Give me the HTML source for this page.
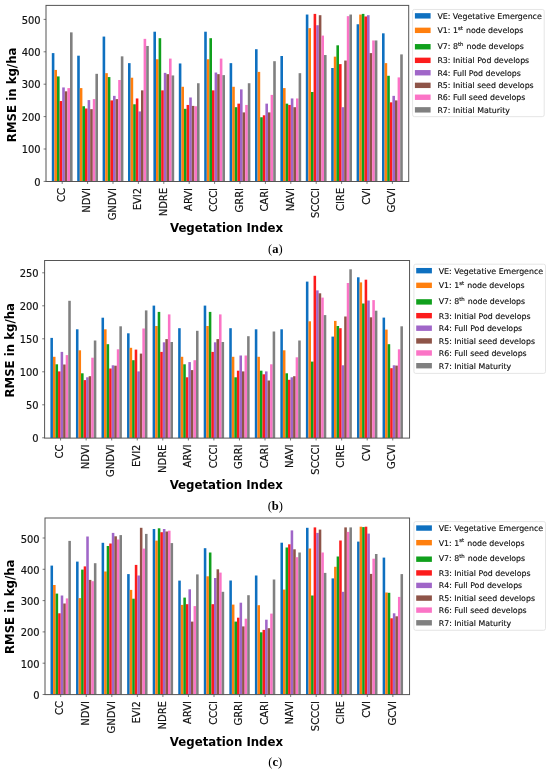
<!DOCTYPE html>
<html><head><meta charset="utf-8"><title>RMSE by Vegetation Index</title>
<style>
html,body{margin:0;padding:0;background:#fff;}
svg{display:block;}
.tk{font-family:"DejaVu Sans","Liberation Sans",sans-serif;font-size:9.95px;fill:#111;stroke:#111;stroke-width:0.18px;}
.lb{font-family:"DejaVu Sans","Liberation Sans",sans-serif;font-size:11.75px;font-weight:bold;fill:#000;}
.lg{font-family:"DejaVu Sans","Liberation Sans",sans-serif;font-size:7.85px;fill:#111;stroke:#111;stroke-width:0.15px;}
.cp{font-family:"Liberation Serif","DejaVu Serif",serif;font-size:12.5px;fill:#000;}
</style></head><body>
<svg width="550" height="773" viewBox="0 0 550 773" shape-rendering="auto">
<rect width="550" height="773" fill="#fff"/>
<rect x="51.8" y="53.1" width="2.6" height="128.4" fill="#0e70c0"/>
<rect x="54.4" y="69.94" width="2.6" height="111.56" fill="#ff7f0e"/>
<rect x="57" y="76.42" width="2.6" height="105.08" fill="#10a01c"/>
<rect x="59.6" y="101.05" width="2.6" height="80.45" fill="#fc1c1c"/>
<rect x="62.2" y="87.44" width="2.6" height="94.06" fill="#a066c8"/>
<rect x="64.8" y="91.33" width="2.6" height="90.17" fill="#8e5448"/>
<rect x="67.4" y="88.09" width="2.6" height="93.41" fill="#fb74c6"/>
<rect x="70" y="32.36" width="2.6" height="149.14" fill="#808080"/>
<rect x="77.2" y="55.69" width="2.6" height="125.81" fill="#0e70c0"/>
<rect x="79.8" y="88.09" width="2.6" height="93.41" fill="#ff7f0e"/>
<rect x="82.4" y="106.23" width="2.6" height="75.27" fill="#10a01c"/>
<rect x="85" y="108.5" width="2.6" height="73" fill="#fc1c1c"/>
<rect x="87.6" y="100.08" width="2.6" height="81.42" fill="#a066c8"/>
<rect x="90.2" y="109.15" width="2.6" height="72.35" fill="#8e5448"/>
<rect x="92.8" y="99.1" width="2.6" height="82.4" fill="#fb74c6"/>
<rect x="95.4" y="73.83" width="2.6" height="107.67" fill="#808080"/>
<rect x="102.6" y="36.57" width="2.6" height="144.93" fill="#0e70c0"/>
<rect x="105.2" y="73.18" width="2.6" height="108.32" fill="#ff7f0e"/>
<rect x="107.8" y="77.07" width="2.6" height="104.43" fill="#10a01c"/>
<rect x="110.4" y="100.4" width="2.6" height="81.1" fill="#fc1c1c"/>
<rect x="113" y="95.86" width="2.6" height="85.64" fill="#a066c8"/>
<rect x="115.6" y="99.1" width="2.6" height="82.4" fill="#8e5448"/>
<rect x="118.2" y="79.99" width="2.6" height="101.51" fill="#fb74c6"/>
<rect x="120.8" y="56.34" width="2.6" height="125.16" fill="#808080"/>
<rect x="128" y="63.14" width="2.6" height="118.36" fill="#0e70c0"/>
<rect x="130.6" y="77.72" width="2.6" height="103.78" fill="#ff7f0e"/>
<rect x="133.2" y="104.29" width="2.6" height="77.21" fill="#10a01c"/>
<rect x="135.8" y="98.46" width="2.6" height="83.04" fill="#fc1c1c"/>
<rect x="138.4" y="111.42" width="2.6" height="70.08" fill="#a066c8"/>
<rect x="141" y="90.36" width="2.6" height="91.14" fill="#8e5448"/>
<rect x="143.6" y="38.84" width="2.6" height="142.66" fill="#fb74c6"/>
<rect x="146.2" y="45.97" width="2.6" height="135.53" fill="#808080"/>
<rect x="153.4" y="31.71" width="2.6" height="149.79" fill="#0e70c0"/>
<rect x="156" y="59.25" width="2.6" height="122.25" fill="#ff7f0e"/>
<rect x="158.6" y="38.19" width="2.6" height="143.31" fill="#10a01c"/>
<rect x="161.2" y="90.36" width="2.6" height="91.14" fill="#fc1c1c"/>
<rect x="163.8" y="72.86" width="2.6" height="108.64" fill="#a066c8"/>
<rect x="166.4" y="74.16" width="2.6" height="107.34" fill="#8e5448"/>
<rect x="169" y="58.6" width="2.6" height="122.9" fill="#fb74c6"/>
<rect x="171.6" y="75.45" width="2.6" height="106.05" fill="#808080"/>
<rect x="178.8" y="63.46" width="2.6" height="118.04" fill="#0e70c0"/>
<rect x="181.4" y="86.79" width="2.6" height="94.71" fill="#ff7f0e"/>
<rect x="184" y="108.82" width="2.6" height="72.68" fill="#10a01c"/>
<rect x="186.6" y="104.94" width="2.6" height="76.56" fill="#fc1c1c"/>
<rect x="189.2" y="97.48" width="2.6" height="84.02" fill="#a066c8"/>
<rect x="191.8" y="105.91" width="2.6" height="75.59" fill="#8e5448"/>
<rect x="194.4" y="106.23" width="2.6" height="75.27" fill="#fb74c6"/>
<rect x="197" y="83.23" width="2.6" height="98.27" fill="#808080"/>
<rect x="204.2" y="31.71" width="2.6" height="149.79" fill="#0e70c0"/>
<rect x="206.8" y="59.25" width="2.6" height="122.25" fill="#ff7f0e"/>
<rect x="209.4" y="38.19" width="2.6" height="143.31" fill="#10a01c"/>
<rect x="212" y="90.36" width="2.6" height="91.14" fill="#fc1c1c"/>
<rect x="214.6" y="72.54" width="2.6" height="108.96" fill="#a066c8"/>
<rect x="217.2" y="74.16" width="2.6" height="107.34" fill="#8e5448"/>
<rect x="219.8" y="58.6" width="2.6" height="122.9" fill="#fb74c6"/>
<rect x="222.4" y="75.13" width="2.6" height="106.37" fill="#808080"/>
<rect x="229.6" y="63.14" width="2.6" height="118.36" fill="#0e70c0"/>
<rect x="232.2" y="86.79" width="2.6" height="94.71" fill="#ff7f0e"/>
<rect x="234.8" y="107.2" width="2.6" height="74.3" fill="#10a01c"/>
<rect x="237.4" y="103.64" width="2.6" height="77.86" fill="#fc1c1c"/>
<rect x="240" y="89.38" width="2.6" height="92.12" fill="#a066c8"/>
<rect x="242.6" y="112.39" width="2.6" height="69.11" fill="#8e5448"/>
<rect x="245.2" y="104.94" width="2.6" height="76.56" fill="#fb74c6"/>
<rect x="247.8" y="83.23" width="2.6" height="98.27" fill="#808080"/>
<rect x="255" y="49.21" width="2.6" height="132.29" fill="#0e70c0"/>
<rect x="257.6" y="71.89" width="2.6" height="109.61" fill="#ff7f0e"/>
<rect x="260.2" y="117.25" width="2.6" height="64.25" fill="#10a01c"/>
<rect x="262.8" y="115.3" width="2.6" height="66.2" fill="#fc1c1c"/>
<rect x="265.4" y="103.64" width="2.6" height="77.86" fill="#a066c8"/>
<rect x="268" y="112.39" width="2.6" height="69.11" fill="#8e5448"/>
<rect x="270.6" y="94.89" width="2.6" height="86.61" fill="#fb74c6"/>
<rect x="273.2" y="61.2" width="2.6" height="120.3" fill="#808080"/>
<rect x="280.4" y="56.01" width="2.6" height="125.49" fill="#0e70c0"/>
<rect x="283" y="88.09" width="2.6" height="93.41" fill="#ff7f0e"/>
<rect x="285.6" y="103.64" width="2.6" height="77.86" fill="#10a01c"/>
<rect x="288.2" y="104.94" width="2.6" height="76.56" fill="#fc1c1c"/>
<rect x="290.8" y="98.46" width="2.6" height="83.04" fill="#a066c8"/>
<rect x="293.4" y="107.2" width="2.6" height="74.3" fill="#8e5448"/>
<rect x="296" y="98.46" width="2.6" height="83.04" fill="#fb74c6"/>
<rect x="298.6" y="73.18" width="2.6" height="108.32" fill="#808080"/>
<rect x="305.8" y="14.54" width="2.6" height="166.96" fill="#0e70c0"/>
<rect x="308.4" y="28.15" width="2.6" height="153.35" fill="#ff7f0e"/>
<rect x="311" y="91.98" width="2.6" height="89.52" fill="#10a01c"/>
<rect x="313.6" y="13.89" width="2.6" height="167.61" fill="#fc1c1c"/>
<rect x="316.2" y="25.23" width="2.6" height="156.27" fill="#a066c8"/>
<rect x="318.8" y="15.19" width="2.6" height="166.31" fill="#8e5448"/>
<rect x="321.4" y="35.6" width="2.6" height="145.9" fill="#fb74c6"/>
<rect x="324" y="55.04" width="2.6" height="126.46" fill="#808080"/>
<rect x="331.2" y="68" width="2.6" height="113.5" fill="#0e70c0"/>
<rect x="333.8" y="56.66" width="2.6" height="124.84" fill="#ff7f0e"/>
<rect x="336.4" y="45.32" width="2.6" height="136.18" fill="#10a01c"/>
<rect x="339" y="64.11" width="2.6" height="117.39" fill="#fc1c1c"/>
<rect x="341.6" y="107.2" width="2.6" height="74.3" fill="#a066c8"/>
<rect x="344.2" y="60.55" width="2.6" height="120.95" fill="#8e5448"/>
<rect x="346.8" y="16.16" width="2.6" height="165.34" fill="#fb74c6"/>
<rect x="349.4" y="14.54" width="2.6" height="166.96" fill="#808080"/>
<rect x="356.6" y="24.26" width="2.6" height="157.24" fill="#0e70c0"/>
<rect x="359.2" y="14.54" width="2.6" height="166.96" fill="#ff7f0e"/>
<rect x="361.8" y="13.89" width="2.6" height="167.61" fill="#10a01c"/>
<rect x="364.4" y="16.48" width="2.6" height="165.02" fill="#fc1c1c"/>
<rect x="367" y="15.19" width="2.6" height="166.31" fill="#a066c8"/>
<rect x="369.6" y="53.1" width="2.6" height="128.4" fill="#8e5448"/>
<rect x="372.2" y="40.46" width="2.6" height="141.04" fill="#fb74c6"/>
<rect x="374.8" y="40.46" width="2.6" height="141.04" fill="#808080"/>
<rect x="382" y="33.33" width="2.6" height="148.17" fill="#0e70c0"/>
<rect x="384.6" y="63.14" width="2.6" height="118.36" fill="#ff7f0e"/>
<rect x="387.2" y="75.78" width="2.6" height="105.72" fill="#10a01c"/>
<rect x="389.8" y="102.34" width="2.6" height="79.16" fill="#fc1c1c"/>
<rect x="392.4" y="95.86" width="2.6" height="85.64" fill="#a066c8"/>
<rect x="395" y="100.4" width="2.6" height="81.1" fill="#8e5448"/>
<rect x="397.6" y="77.4" width="2.6" height="104.1" fill="#fb74c6"/>
<rect x="400.2" y="54.39" width="2.6" height="127.11" fill="#808080"/>
<rect x="46" y="5.4" width="362.7" height="176.1" fill="none" stroke="#555" stroke-width="1"/>
<line x1="43.6" y1="181.4" x2="46" y2="181.4" stroke="#444" stroke-width="0.7"/>
<text class="tk" x="40.6" y="185.5" text-anchor="end">0</text>
<line x1="43.6" y1="149" x2="46" y2="149" stroke="#444" stroke-width="0.7"/>
<text class="tk" x="40.6" y="153.1" text-anchor="end">100</text>
<line x1="43.6" y1="116.6" x2="46" y2="116.6" stroke="#444" stroke-width="0.7"/>
<text class="tk" x="40.6" y="120.7" text-anchor="end">200</text>
<line x1="43.6" y1="84.2" x2="46" y2="84.2" stroke="#444" stroke-width="0.7"/>
<text class="tk" x="40.6" y="88.3" text-anchor="end">300</text>
<line x1="43.6" y1="51.8" x2="46" y2="51.8" stroke="#444" stroke-width="0.7"/>
<text class="tk" x="40.6" y="55.9" text-anchor="end">400</text>
<line x1="43.6" y1="19.4" x2="46" y2="19.4" stroke="#444" stroke-width="0.7"/>
<text class="tk" x="40.6" y="23.5" text-anchor="end">500</text>
<line x1="62.2" y1="181.5" x2="62.2" y2="183.9" stroke="#444" stroke-width="0.7"/>
<text class="tk" transform="translate(64.9,188) rotate(-90)" text-anchor="end">CC</text>
<line x1="87.6" y1="181.5" x2="87.6" y2="183.9" stroke="#444" stroke-width="0.7"/>
<text class="tk" transform="translate(90.3,188) rotate(-90)" text-anchor="end">NDVI</text>
<line x1="113" y1="181.5" x2="113" y2="183.9" stroke="#444" stroke-width="0.7"/>
<text class="tk" transform="translate(115.7,188) rotate(-90)" text-anchor="end">GNDVI</text>
<line x1="138.4" y1="181.5" x2="138.4" y2="183.9" stroke="#444" stroke-width="0.7"/>
<text class="tk" transform="translate(141.1,188) rotate(-90)" text-anchor="end">EVI2</text>
<line x1="163.8" y1="181.5" x2="163.8" y2="183.9" stroke="#444" stroke-width="0.7"/>
<text class="tk" transform="translate(166.5,188) rotate(-90)" text-anchor="end">NDRE</text>
<line x1="189.2" y1="181.5" x2="189.2" y2="183.9" stroke="#444" stroke-width="0.7"/>
<text class="tk" transform="translate(191.9,188) rotate(-90)" text-anchor="end">ARVI</text>
<line x1="214.6" y1="181.5" x2="214.6" y2="183.9" stroke="#444" stroke-width="0.7"/>
<text class="tk" transform="translate(217.3,188) rotate(-90)" text-anchor="end">CCCI</text>
<line x1="240" y1="181.5" x2="240" y2="183.9" stroke="#444" stroke-width="0.7"/>
<text class="tk" transform="translate(242.7,188) rotate(-90)" text-anchor="end">GRRI</text>
<line x1="265.4" y1="181.5" x2="265.4" y2="183.9" stroke="#444" stroke-width="0.7"/>
<text class="tk" transform="translate(268.1,188) rotate(-90)" text-anchor="end">CARI</text>
<line x1="290.8" y1="181.5" x2="290.8" y2="183.9" stroke="#444" stroke-width="0.7"/>
<text class="tk" transform="translate(293.5,188) rotate(-90)" text-anchor="end">NAVI</text>
<line x1="316.2" y1="181.5" x2="316.2" y2="183.9" stroke="#444" stroke-width="0.7"/>
<text class="tk" transform="translate(318.9,188) rotate(-90)" text-anchor="end">SCCCI</text>
<line x1="341.6" y1="181.5" x2="341.6" y2="183.9" stroke="#444" stroke-width="0.7"/>
<text class="tk" transform="translate(344.3,188) rotate(-90)" text-anchor="end">CIRE</text>
<line x1="367" y1="181.5" x2="367" y2="183.9" stroke="#444" stroke-width="0.7"/>
<text class="tk" transform="translate(369.7,188) rotate(-90)" text-anchor="end">CVI</text>
<line x1="392.4" y1="181.5" x2="392.4" y2="183.9" stroke="#444" stroke-width="0.7"/>
<text class="tk" transform="translate(395.1,188) rotate(-90)" text-anchor="end">GCVI</text>
<text class="lb" x="226.55" y="232.3" text-anchor="middle">Vegetation Index</text>
<text class="lb" transform="translate(15.8,94.85) rotate(-90)" text-anchor="middle">RMSE in kg/ha</text>
<text class="cp" x="275.3" y="253.2" text-anchor="middle">(<tspan font-weight="bold">a</tspan>)</text>
<rect x="412.6" y="9.45" width="131.6" height="107.2" rx="1.8" fill="#fff" stroke="#dedede" stroke-width="0.8"/>
<rect x="414.9" y="13.15" width="15.7" height="5.4" fill="#0e70c0"/>
<text class="lg" x="437.4" y="18.75">VE: Vegetative Emergence</text>
<rect x="414.9" y="27.65" width="15.7" height="5.4" fill="#ff7f0e"/>
<text class="lg" x="437.4" y="33.25">V1: 1<tspan dy="-3.4" font-size="5.4">st</tspan><tspan dy="3.4" dx="0.6"> node develops</tspan></text>
<rect x="414.9" y="44.05" width="15.7" height="5.4" fill="#10a01c"/>
<text class="lg" x="437.4" y="48.95">V7: 8<tspan dy="-3.4" font-size="5.4">th</tspan><tspan dy="3.4" dx="0.6"> node develops</tspan></text>
<rect x="414.9" y="57.65" width="15.7" height="5.4" fill="#fc1c1c"/>
<text class="lg" x="437.4" y="63.25">R3: Initial Pod develops</text>
<rect x="414.9" y="70.05" width="15.7" height="5.4" fill="#a066c8"/>
<text class="lg" x="437.4" y="75.65">R4: Full Pod develops</text>
<rect x="414.9" y="82.65" width="15.7" height="5.4" fill="#8e5448"/>
<text class="lg" x="437.4" y="88.25">R5: Initial seed develops</text>
<rect x="414.9" y="94.55" width="15.7" height="5.4" fill="#fb74c6"/>
<text class="lg" x="437.4" y="100.15">R6: Full seed develops</text>
<rect x="414.9" y="107.15" width="15.7" height="5.4" fill="#808080"/>
<text class="lg" x="437.4" y="112.75">R7: Initial Maturity</text>
<rect x="50.4" y="337.9" width="2.55" height="100.2" fill="#0e70c0"/>
<rect x="52.95" y="356.8" width="2.55" height="81.3" fill="#ff7f0e"/>
<rect x="55.5" y="364.3" width="2.55" height="73.8" fill="#10a01c"/>
<rect x="58.05" y="371.4" width="2.55" height="66.7" fill="#fc1c1c"/>
<rect x="60.6" y="351.9" width="2.55" height="86.2" fill="#a066c8"/>
<rect x="63.15" y="364.5" width="2.55" height="73.6" fill="#8e5448"/>
<rect x="65.7" y="355.1" width="2.55" height="83" fill="#fb74c6"/>
<rect x="68.25" y="300.8" width="2.55" height="137.3" fill="#808080"/>
<rect x="75.95" y="329.3" width="2.55" height="108.8" fill="#0e70c0"/>
<rect x="78.5" y="350.3" width="2.55" height="87.8" fill="#ff7f0e"/>
<rect x="81.05" y="373.3" width="2.55" height="64.8" fill="#10a01c"/>
<rect x="83.6" y="380.1" width="2.55" height="58" fill="#fc1c1c"/>
<rect x="86.15" y="377.3" width="2.55" height="60.8" fill="#a066c8"/>
<rect x="88.7" y="376.2" width="2.55" height="61.9" fill="#8e5448"/>
<rect x="91.25" y="357.7" width="2.55" height="80.4" fill="#fb74c6"/>
<rect x="93.8" y="340.5" width="2.55" height="97.6" fill="#808080"/>
<rect x="101.5" y="317.7" width="2.55" height="120.4" fill="#0e70c0"/>
<rect x="104.05" y="329.3" width="2.55" height="108.8" fill="#ff7f0e"/>
<rect x="106.6" y="344.2" width="2.55" height="93.9" fill="#10a01c"/>
<rect x="109.15" y="368.5" width="2.55" height="69.6" fill="#fc1c1c"/>
<rect x="111.7" y="365.3" width="2.55" height="72.8" fill="#a066c8"/>
<rect x="114.25" y="365.7" width="2.55" height="72.4" fill="#8e5448"/>
<rect x="116.8" y="349.3" width="2.55" height="88.8" fill="#fb74c6"/>
<rect x="119.35" y="326.3" width="2.55" height="111.8" fill="#808080"/>
<rect x="127.05" y="333.3" width="2.55" height="104.8" fill="#0e70c0"/>
<rect x="129.6" y="347.8" width="2.55" height="90.3" fill="#ff7f0e"/>
<rect x="132.15" y="360.2" width="2.55" height="77.9" fill="#10a01c"/>
<rect x="134.7" y="349.6" width="2.55" height="88.5" fill="#fc1c1c"/>
<rect x="137.25" y="371.4" width="2.55" height="66.7" fill="#a066c8"/>
<rect x="139.8" y="353.6" width="2.55" height="84.5" fill="#8e5448"/>
<rect x="142.35" y="328.5" width="2.55" height="109.6" fill="#fb74c6"/>
<rect x="144.9" y="310.4" width="2.55" height="127.7" fill="#808080"/>
<rect x="152.6" y="305.6" width="2.55" height="132.5" fill="#0e70c0"/>
<rect x="155.15" y="326" width="2.55" height="112.1" fill="#ff7f0e"/>
<rect x="157.7" y="311.9" width="2.55" height="126.2" fill="#10a01c"/>
<rect x="160.25" y="351.9" width="2.55" height="86.2" fill="#fc1c1c"/>
<rect x="162.8" y="342.3" width="2.55" height="95.8" fill="#a066c8"/>
<rect x="165.35" y="339.1" width="2.55" height="99" fill="#8e5448"/>
<rect x="167.9" y="314.4" width="2.55" height="123.7" fill="#fb74c6"/>
<rect x="170.45" y="342" width="2.55" height="96.1" fill="#808080"/>
<rect x="178.15" y="328.2" width="2.55" height="109.9" fill="#0e70c0"/>
<rect x="180.7" y="356.8" width="2.55" height="81.3" fill="#ff7f0e"/>
<rect x="183.25" y="364.3" width="2.55" height="73.8" fill="#10a01c"/>
<rect x="185.8" y="377.3" width="2.55" height="60.8" fill="#fc1c1c"/>
<rect x="188.35" y="362.1" width="2.55" height="76" fill="#a066c8"/>
<rect x="190.9" y="370.1" width="2.55" height="68" fill="#8e5448"/>
<rect x="193.45" y="360.2" width="2.55" height="77.9" fill="#fb74c6"/>
<rect x="196" y="330.8" width="2.55" height="107.3" fill="#808080"/>
<rect x="203.7" y="305.6" width="2.55" height="132.5" fill="#0e70c0"/>
<rect x="206.25" y="326" width="2.55" height="112.1" fill="#ff7f0e"/>
<rect x="208.8" y="311.9" width="2.55" height="126.2" fill="#10a01c"/>
<rect x="211.35" y="351.9" width="2.55" height="86.2" fill="#fc1c1c"/>
<rect x="213.9" y="342.3" width="2.55" height="95.8" fill="#a066c8"/>
<rect x="216.45" y="339.1" width="2.55" height="99" fill="#8e5448"/>
<rect x="219" y="314.4" width="2.55" height="123.7" fill="#fb74c6"/>
<rect x="221.55" y="342" width="2.55" height="96.1" fill="#808080"/>
<rect x="229.25" y="328.2" width="2.55" height="109.9" fill="#0e70c0"/>
<rect x="231.8" y="356.8" width="2.55" height="81.3" fill="#ff7f0e"/>
<rect x="234.35" y="377.3" width="2.55" height="60.8" fill="#10a01c"/>
<rect x="236.9" y="370.7" width="2.55" height="67.4" fill="#fc1c1c"/>
<rect x="239.45" y="355.5" width="2.55" height="82.6" fill="#a066c8"/>
<rect x="242" y="371.4" width="2.55" height="66.7" fill="#8e5448"/>
<rect x="244.55" y="355.5" width="2.55" height="82.6" fill="#fb74c6"/>
<rect x="247.1" y="336.2" width="2.55" height="101.9" fill="#808080"/>
<rect x="254.8" y="329.3" width="2.55" height="108.8" fill="#0e70c0"/>
<rect x="257.35" y="356.8" width="2.55" height="81.3" fill="#ff7f0e"/>
<rect x="259.9" y="370.7" width="2.55" height="67.4" fill="#10a01c"/>
<rect x="262.45" y="374.3" width="2.55" height="63.8" fill="#fc1c1c"/>
<rect x="265" y="371.4" width="2.55" height="66.7" fill="#a066c8"/>
<rect x="267.55" y="380.5" width="2.55" height="57.6" fill="#8e5448"/>
<rect x="270.1" y="364.3" width="2.55" height="73.8" fill="#fb74c6"/>
<rect x="272.65" y="331.5" width="2.55" height="106.6" fill="#808080"/>
<rect x="280.35" y="329.3" width="2.55" height="108.8" fill="#0e70c0"/>
<rect x="282.9" y="350.3" width="2.55" height="87.8" fill="#ff7f0e"/>
<rect x="285.45" y="373.3" width="2.55" height="64.8" fill="#10a01c"/>
<rect x="288" y="379.8" width="2.55" height="58.3" fill="#fc1c1c"/>
<rect x="290.55" y="377.3" width="2.55" height="60.8" fill="#a066c8"/>
<rect x="293.1" y="376.2" width="2.55" height="61.9" fill="#8e5448"/>
<rect x="295.65" y="357.3" width="2.55" height="80.8" fill="#fb74c6"/>
<rect x="298.2" y="340.5" width="2.55" height="97.6" fill="#808080"/>
<rect x="305.9" y="281.6" width="2.55" height="156.5" fill="#0e70c0"/>
<rect x="308.45" y="321.3" width="2.55" height="116.8" fill="#ff7f0e"/>
<rect x="311" y="361.6" width="2.55" height="76.5" fill="#10a01c"/>
<rect x="313.55" y="275.8" width="2.55" height="162.3" fill="#fc1c1c"/>
<rect x="316.1" y="290.4" width="2.55" height="147.7" fill="#a066c8"/>
<rect x="318.65" y="293.3" width="2.55" height="144.8" fill="#8e5448"/>
<rect x="321.2" y="297.6" width="2.55" height="140.5" fill="#fb74c6"/>
<rect x="323.75" y="315.1" width="2.55" height="123" fill="#808080"/>
<rect x="331.45" y="336.6" width="2.55" height="101.5" fill="#0e70c0"/>
<rect x="334" y="320.9" width="2.55" height="117.2" fill="#ff7f0e"/>
<rect x="336.55" y="326" width="2.55" height="112.1" fill="#10a01c"/>
<rect x="339.1" y="328.2" width="2.55" height="109.9" fill="#fc1c1c"/>
<rect x="341.65" y="365.3" width="2.55" height="72.8" fill="#a066c8"/>
<rect x="344.2" y="316.5" width="2.55" height="121.6" fill="#8e5448"/>
<rect x="346.75" y="283" width="2.55" height="155.1" fill="#fb74c6"/>
<rect x="349.3" y="269.3" width="2.55" height="168.8" fill="#808080"/>
<rect x="357" y="277.3" width="2.55" height="160.8" fill="#0e70c0"/>
<rect x="359.55" y="282.4" width="2.55" height="155.7" fill="#ff7f0e"/>
<rect x="362.1" y="303.5" width="2.55" height="134.6" fill="#10a01c"/>
<rect x="364.65" y="279.7" width="2.55" height="158.4" fill="#fc1c1c"/>
<rect x="367.2" y="300.5" width="2.55" height="137.6" fill="#a066c8"/>
<rect x="369.75" y="317.3" width="2.55" height="120.8" fill="#8e5448"/>
<rect x="372.3" y="300.1" width="2.55" height="138" fill="#fb74c6"/>
<rect x="374.85" y="310.7" width="2.55" height="127.4" fill="#808080"/>
<rect x="382.55" y="317.6" width="2.55" height="120.5" fill="#0e70c0"/>
<rect x="385.1" y="329.6" width="2.55" height="108.5" fill="#ff7f0e"/>
<rect x="387.65" y="344.2" width="2.55" height="93.9" fill="#10a01c"/>
<rect x="390.2" y="368.2" width="2.55" height="69.9" fill="#fc1c1c"/>
<rect x="392.75" y="365.3" width="2.55" height="72.8" fill="#a066c8"/>
<rect x="395.3" y="365.6" width="2.55" height="72.5" fill="#8e5448"/>
<rect x="397.85" y="349.3" width="2.55" height="88.8" fill="#fb74c6"/>
<rect x="400.4" y="326.3" width="2.55" height="111.8" fill="#808080"/>
<rect x="44.6" y="260.5" width="364.95" height="177.6" fill="none" stroke="#555" stroke-width="1"/>
<line x1="42.2" y1="437.8" x2="44.6" y2="437.8" stroke="#444" stroke-width="0.7"/>
<text class="tk" x="38.6" y="442.4" text-anchor="end">0</text>
<line x1="42.2" y1="404.8" x2="44.6" y2="404.8" stroke="#444" stroke-width="0.7"/>
<text class="tk" x="38.6" y="409.4" text-anchor="end">50</text>
<line x1="42.2" y1="371.8" x2="44.6" y2="371.8" stroke="#444" stroke-width="0.7"/>
<text class="tk" x="38.6" y="376.4" text-anchor="end">100</text>
<line x1="42.2" y1="338.8" x2="44.6" y2="338.8" stroke="#444" stroke-width="0.7"/>
<text class="tk" x="38.6" y="343.4" text-anchor="end">150</text>
<line x1="42.2" y1="305.8" x2="44.6" y2="305.8" stroke="#444" stroke-width="0.7"/>
<text class="tk" x="38.6" y="310.4" text-anchor="end">200</text>
<line x1="42.2" y1="272.8" x2="44.6" y2="272.8" stroke="#444" stroke-width="0.7"/>
<text class="tk" x="38.6" y="277.4" text-anchor="end">250</text>
<line x1="60.6" y1="438.1" x2="60.6" y2="440.5" stroke="#444" stroke-width="0.7"/>
<text class="tk" transform="translate(63.3,444.6) rotate(-90)" text-anchor="end">CC</text>
<line x1="86.15" y1="438.1" x2="86.15" y2="440.5" stroke="#444" stroke-width="0.7"/>
<text class="tk" transform="translate(88.85,444.6) rotate(-90)" text-anchor="end">NDVI</text>
<line x1="111.7" y1="438.1" x2="111.7" y2="440.5" stroke="#444" stroke-width="0.7"/>
<text class="tk" transform="translate(114.4,444.6) rotate(-90)" text-anchor="end">GNDVI</text>
<line x1="137.25" y1="438.1" x2="137.25" y2="440.5" stroke="#444" stroke-width="0.7"/>
<text class="tk" transform="translate(139.95,444.6) rotate(-90)" text-anchor="end">EVI2</text>
<line x1="162.8" y1="438.1" x2="162.8" y2="440.5" stroke="#444" stroke-width="0.7"/>
<text class="tk" transform="translate(165.5,444.6) rotate(-90)" text-anchor="end">NDRE</text>
<line x1="188.35" y1="438.1" x2="188.35" y2="440.5" stroke="#444" stroke-width="0.7"/>
<text class="tk" transform="translate(191.05,444.6) rotate(-90)" text-anchor="end">ARVI</text>
<line x1="213.9" y1="438.1" x2="213.9" y2="440.5" stroke="#444" stroke-width="0.7"/>
<text class="tk" transform="translate(216.6,444.6) rotate(-90)" text-anchor="end">CCCI</text>
<line x1="239.45" y1="438.1" x2="239.45" y2="440.5" stroke="#444" stroke-width="0.7"/>
<text class="tk" transform="translate(242.15,444.6) rotate(-90)" text-anchor="end">GRRI</text>
<line x1="265" y1="438.1" x2="265" y2="440.5" stroke="#444" stroke-width="0.7"/>
<text class="tk" transform="translate(267.7,444.6) rotate(-90)" text-anchor="end">CARI</text>
<line x1="290.55" y1="438.1" x2="290.55" y2="440.5" stroke="#444" stroke-width="0.7"/>
<text class="tk" transform="translate(293.25,444.6) rotate(-90)" text-anchor="end">NAVI</text>
<line x1="316.1" y1="438.1" x2="316.1" y2="440.5" stroke="#444" stroke-width="0.7"/>
<text class="tk" transform="translate(318.8,444.6) rotate(-90)" text-anchor="end">SCCCI</text>
<line x1="341.65" y1="438.1" x2="341.65" y2="440.5" stroke="#444" stroke-width="0.7"/>
<text class="tk" transform="translate(344.35,444.6) rotate(-90)" text-anchor="end">CIRE</text>
<line x1="367.2" y1="438.1" x2="367.2" y2="440.5" stroke="#444" stroke-width="0.7"/>
<text class="tk" transform="translate(369.9,444.6) rotate(-90)" text-anchor="end">CVI</text>
<line x1="392.75" y1="438.1" x2="392.75" y2="440.5" stroke="#444" stroke-width="0.7"/>
<text class="tk" transform="translate(395.45,444.6) rotate(-90)" text-anchor="end">GCVI</text>
<text class="lb" x="226.28" y="488.5" text-anchor="middle">Vegetation Index</text>
<text class="lb" transform="translate(13.6,350.3) rotate(-90)" text-anchor="middle">RMSE in kg/ha</text>
<text class="cp" x="275.3" y="509.5" text-anchor="middle">(<tspan font-weight="bold">b</tspan>)</text>
<rect x="413.9" y="264.2" width="131.6" height="109.2" rx="1.8" fill="#fff" stroke="#dedede" stroke-width="0.8"/>
<rect x="416.2" y="267.97" width="15.7" height="5.4" fill="#0e70c0"/>
<text class="lg" x="438.7" y="273.57">VE: Vegetative Emergence</text>
<rect x="416.2" y="282.63" width="15.7" height="5.4" fill="#ff7f0e"/>
<text class="lg" x="438.7" y="288.23">V1: 1<tspan dy="-3.4" font-size="5.4">st</tspan><tspan dy="3.4" dx="0.6"> node develops</tspan></text>
<rect x="416.2" y="299.2" width="15.7" height="5.4" fill="#10a01c"/>
<text class="lg" x="438.7" y="304.1">V7: 8<tspan dy="-3.4" font-size="5.4">th</tspan><tspan dy="3.4" dx="0.6"> node develops</tspan></text>
<rect x="416.2" y="312.96" width="15.7" height="5.4" fill="#fc1c1c"/>
<text class="lg" x="438.7" y="318.56">R3: Initial Pod develops</text>
<rect x="416.2" y="325.5" width="15.7" height="5.4" fill="#a066c8"/>
<text class="lg" x="438.7" y="331.1">R4: Full Pod develops</text>
<rect x="416.2" y="338.23" width="15.7" height="5.4" fill="#8e5448"/>
<text class="lg" x="438.7" y="343.83">R5: Initial seed develops</text>
<rect x="416.2" y="350.27" width="15.7" height="5.4" fill="#fb74c6"/>
<text class="lg" x="438.7" y="355.87">R6: Full seed develops</text>
<rect x="416.2" y="363" width="15.7" height="5.4" fill="#808080"/>
<text class="lg" x="438.7" y="368.6">R7: Initial Maturity</text>
<rect x="50.5" y="565.6" width="2.55" height="129" fill="#0e70c0"/>
<rect x="53.05" y="585" width="2.55" height="109.6" fill="#ff7f0e"/>
<rect x="55.6" y="593.6" width="2.55" height="101" fill="#10a01c"/>
<rect x="58.15" y="613.3" width="2.55" height="81.3" fill="#fc1c1c"/>
<rect x="60.7" y="595.5" width="2.55" height="99.1" fill="#a066c8"/>
<rect x="63.25" y="603.5" width="2.55" height="91.1" fill="#8e5448"/>
<rect x="65.8" y="598.4" width="2.55" height="96.2" fill="#fb74c6"/>
<rect x="68.35" y="540.9" width="2.55" height="153.7" fill="#808080"/>
<rect x="76.05" y="561.6" width="2.55" height="133" fill="#0e70c0"/>
<rect x="78.6" y="598.1" width="2.55" height="96.5" fill="#ff7f0e"/>
<rect x="81.15" y="569.6" width="2.55" height="125" fill="#10a01c"/>
<rect x="83.7" y="566.4" width="2.55" height="128.2" fill="#fc1c1c"/>
<rect x="86.25" y="536.5" width="2.55" height="158.1" fill="#a066c8"/>
<rect x="88.8" y="579.9" width="2.55" height="114.7" fill="#8e5448"/>
<rect x="91.35" y="581.2" width="2.55" height="113.4" fill="#fb74c6"/>
<rect x="93.9" y="563.2" width="2.55" height="131.4" fill="#808080"/>
<rect x="101.6" y="542.8" width="2.55" height="151.8" fill="#0e70c0"/>
<rect x="104.15" y="571.5" width="2.55" height="123.1" fill="#ff7f0e"/>
<rect x="106.7" y="546" width="2.55" height="148.6" fill="#10a01c"/>
<rect x="109.25" y="543.5" width="2.55" height="151.1" fill="#fc1c1c"/>
<rect x="111.8" y="532.9" width="2.55" height="161.7" fill="#a066c8"/>
<rect x="114.35" y="536.3" width="2.55" height="158.3" fill="#8e5448"/>
<rect x="116.9" y="539.5" width="2.55" height="155.1" fill="#fb74c6"/>
<rect x="119.45" y="535.1" width="2.55" height="159.5" fill="#808080"/>
<rect x="127.15" y="574.1" width="2.55" height="120.5" fill="#0e70c0"/>
<rect x="129.7" y="589.9" width="2.55" height="104.7" fill="#ff7f0e"/>
<rect x="132.25" y="598.7" width="2.55" height="95.9" fill="#10a01c"/>
<rect x="134.8" y="564.9" width="2.55" height="129.7" fill="#fc1c1c"/>
<rect x="137.35" y="575.5" width="2.55" height="119.1" fill="#a066c8"/>
<rect x="139.9" y="527.8" width="2.55" height="166.8" fill="#8e5448"/>
<rect x="142.45" y="548.6" width="2.55" height="146" fill="#fb74c6"/>
<rect x="145" y="533.9" width="2.55" height="160.7" fill="#808080"/>
<rect x="152.7" y="529" width="2.55" height="165.6" fill="#0e70c0"/>
<rect x="155.25" y="540.6" width="2.55" height="154" fill="#ff7f0e"/>
<rect x="157.8" y="528.3" width="2.55" height="166.3" fill="#10a01c"/>
<rect x="160.35" y="532.2" width="2.55" height="162.4" fill="#fc1c1c"/>
<rect x="162.9" y="529" width="2.55" height="165.6" fill="#a066c8"/>
<rect x="165.45" y="531.5" width="2.55" height="163.1" fill="#8e5448"/>
<rect x="168" y="530.7" width="2.55" height="163.9" fill="#fb74c6"/>
<rect x="170.55" y="543.1" width="2.55" height="151.5" fill="#808080"/>
<rect x="178.25" y="580.6" width="2.55" height="114" fill="#0e70c0"/>
<rect x="180.8" y="604.9" width="2.55" height="89.7" fill="#ff7f0e"/>
<rect x="183.35" y="597.6" width="2.55" height="97" fill="#10a01c"/>
<rect x="185.9" y="604.2" width="2.55" height="90.4" fill="#fc1c1c"/>
<rect x="188.45" y="589.3" width="2.55" height="105.3" fill="#a066c8"/>
<rect x="191" y="621.6" width="2.55" height="73" fill="#8e5448"/>
<rect x="193.55" y="606.1" width="2.55" height="88.5" fill="#fb74c6"/>
<rect x="196.1" y="574.4" width="2.55" height="120.2" fill="#808080"/>
<rect x="203.8" y="548.2" width="2.55" height="146.4" fill="#0e70c0"/>
<rect x="206.35" y="576.3" width="2.55" height="118.3" fill="#ff7f0e"/>
<rect x="208.9" y="552.5" width="2.55" height="142.1" fill="#10a01c"/>
<rect x="211.45" y="604.2" width="2.55" height="90.4" fill="#fc1c1c"/>
<rect x="214" y="578" width="2.55" height="116.6" fill="#a066c8"/>
<rect x="216.55" y="569.3" width="2.55" height="125.3" fill="#8e5448"/>
<rect x="219.1" y="572.6" width="2.55" height="122" fill="#fb74c6"/>
<rect x="221.65" y="591.8" width="2.55" height="102.8" fill="#808080"/>
<rect x="229.35" y="580.5" width="2.55" height="114.1" fill="#0e70c0"/>
<rect x="231.9" y="604.6" width="2.55" height="90" fill="#ff7f0e"/>
<rect x="234.45" y="621.6" width="2.55" height="73" fill="#10a01c"/>
<rect x="237" y="617.7" width="2.55" height="76.9" fill="#fc1c1c"/>
<rect x="239.55" y="602.7" width="2.55" height="91.9" fill="#a066c8"/>
<rect x="242.1" y="626.4" width="2.55" height="68.2" fill="#8e5448"/>
<rect x="244.65" y="618.7" width="2.55" height="75.9" fill="#fb74c6"/>
<rect x="247.2" y="595.2" width="2.55" height="99.4" fill="#808080"/>
<rect x="254.9" y="575.5" width="2.55" height="119.1" fill="#0e70c0"/>
<rect x="257.45" y="605.2" width="2.55" height="89.4" fill="#ff7f0e"/>
<rect x="260" y="632.3" width="2.55" height="62.3" fill="#10a01c"/>
<rect x="262.55" y="629.9" width="2.55" height="64.7" fill="#fc1c1c"/>
<rect x="265.1" y="619.7" width="2.55" height="74.9" fill="#a066c8"/>
<rect x="267.65" y="628.2" width="2.55" height="66.4" fill="#8e5448"/>
<rect x="270.2" y="613.6" width="2.55" height="81" fill="#fb74c6"/>
<rect x="272.75" y="579.5" width="2.55" height="115.1" fill="#808080"/>
<rect x="280.45" y="542.7" width="2.55" height="151.9" fill="#0e70c0"/>
<rect x="283" y="589.6" width="2.55" height="105" fill="#ff7f0e"/>
<rect x="285.55" y="547.5" width="2.55" height="147.1" fill="#10a01c"/>
<rect x="288.1" y="544.3" width="2.55" height="150.3" fill="#fc1c1c"/>
<rect x="290.65" y="530.4" width="2.55" height="164.2" fill="#a066c8"/>
<rect x="293.2" y="549.3" width="2.55" height="145.3" fill="#8e5448"/>
<rect x="295.75" y="557.2" width="2.55" height="137.4" fill="#fb74c6"/>
<rect x="298.3" y="552.5" width="2.55" height="142.1" fill="#808080"/>
<rect x="306" y="527.8" width="2.55" height="166.8" fill="#0e70c0"/>
<rect x="308.55" y="548.5" width="2.55" height="146.1" fill="#ff7f0e"/>
<rect x="311.1" y="595.5" width="2.55" height="99.1" fill="#10a01c"/>
<rect x="313.65" y="527.4" width="2.55" height="167.2" fill="#fc1c1c"/>
<rect x="316.2" y="532.9" width="2.55" height="161.7" fill="#a066c8"/>
<rect x="318.75" y="529.6" width="2.55" height="165" fill="#8e5448"/>
<rect x="321.3" y="552.5" width="2.55" height="142.1" fill="#fb74c6"/>
<rect x="323.85" y="572.9" width="2.55" height="121.7" fill="#808080"/>
<rect x="331.55" y="578.4" width="2.55" height="116.2" fill="#0e70c0"/>
<rect x="334.1" y="566.8" width="2.55" height="127.8" fill="#ff7f0e"/>
<rect x="336.65" y="556.5" width="2.55" height="138.1" fill="#10a01c"/>
<rect x="339.2" y="540.5" width="2.55" height="154.1" fill="#fc1c1c"/>
<rect x="341.75" y="591.8" width="2.55" height="102.8" fill="#a066c8"/>
<rect x="344.3" y="527.4" width="2.55" height="167.2" fill="#8e5448"/>
<rect x="346.85" y="531.9" width="2.55" height="162.7" fill="#fb74c6"/>
<rect x="349.4" y="527.4" width="2.55" height="167.2" fill="#808080"/>
<rect x="357.1" y="541.6" width="2.55" height="153" fill="#0e70c0"/>
<rect x="359.65" y="526.7" width="2.55" height="167.9" fill="#ff7f0e"/>
<rect x="362.2" y="527.1" width="2.55" height="167.5" fill="#10a01c"/>
<rect x="364.75" y="526.7" width="2.55" height="167.9" fill="#fc1c1c"/>
<rect x="367.3" y="533.6" width="2.55" height="161" fill="#a066c8"/>
<rect x="369.85" y="573.9" width="2.55" height="120.7" fill="#8e5448"/>
<rect x="372.4" y="558.7" width="2.55" height="135.9" fill="#fb74c6"/>
<rect x="374.95" y="554" width="2.55" height="140.6" fill="#808080"/>
<rect x="382.65" y="557.6" width="2.55" height="137" fill="#0e70c0"/>
<rect x="385.2" y="592.5" width="2.55" height="102.1" fill="#ff7f0e"/>
<rect x="387.75" y="592.8" width="2.55" height="101.8" fill="#10a01c"/>
<rect x="390.3" y="618.3" width="2.55" height="76.3" fill="#fc1c1c"/>
<rect x="392.85" y="613.3" width="2.55" height="81.3" fill="#a066c8"/>
<rect x="395.4" y="616.3" width="2.55" height="78.3" fill="#8e5448"/>
<rect x="397.95" y="596.9" width="2.55" height="97.7" fill="#fb74c6"/>
<rect x="400.5" y="574.1" width="2.55" height="120.5" fill="#808080"/>
<rect x="45" y="518" width="364.55" height="176.6" fill="none" stroke="#555" stroke-width="1"/>
<line x1="42.6" y1="694.5" x2="45" y2="694.5" stroke="#444" stroke-width="0.7"/>
<text class="tk" x="39.6" y="699" text-anchor="end">0</text>
<line x1="42.6" y1="663.2" x2="45" y2="663.2" stroke="#444" stroke-width="0.7"/>
<text class="tk" x="39.6" y="667.7" text-anchor="end">100</text>
<line x1="42.6" y1="631.9" x2="45" y2="631.9" stroke="#444" stroke-width="0.7"/>
<text class="tk" x="39.6" y="636.4" text-anchor="end">200</text>
<line x1="42.6" y1="600.6" x2="45" y2="600.6" stroke="#444" stroke-width="0.7"/>
<text class="tk" x="39.6" y="605.1" text-anchor="end">300</text>
<line x1="42.6" y1="569.3" x2="45" y2="569.3" stroke="#444" stroke-width="0.7"/>
<text class="tk" x="39.6" y="573.8" text-anchor="end">400</text>
<line x1="42.6" y1="538" x2="45" y2="538" stroke="#444" stroke-width="0.7"/>
<text class="tk" x="39.6" y="542.5" text-anchor="end">500</text>
<line x1="60.7" y1="694.6" x2="60.7" y2="697" stroke="#444" stroke-width="0.7"/>
<text class="tk" transform="translate(63.4,701.1) rotate(-90)" text-anchor="end">CC</text>
<line x1="86.25" y1="694.6" x2="86.25" y2="697" stroke="#444" stroke-width="0.7"/>
<text class="tk" transform="translate(88.95,701.1) rotate(-90)" text-anchor="end">NDVI</text>
<line x1="111.8" y1="694.6" x2="111.8" y2="697" stroke="#444" stroke-width="0.7"/>
<text class="tk" transform="translate(114.5,701.1) rotate(-90)" text-anchor="end">GNDVI</text>
<line x1="137.35" y1="694.6" x2="137.35" y2="697" stroke="#444" stroke-width="0.7"/>
<text class="tk" transform="translate(140.05,701.1) rotate(-90)" text-anchor="end">EVI2</text>
<line x1="162.9" y1="694.6" x2="162.9" y2="697" stroke="#444" stroke-width="0.7"/>
<text class="tk" transform="translate(165.6,701.1) rotate(-90)" text-anchor="end">NDRE</text>
<line x1="188.45" y1="694.6" x2="188.45" y2="697" stroke="#444" stroke-width="0.7"/>
<text class="tk" transform="translate(191.15,701.1) rotate(-90)" text-anchor="end">ARVI</text>
<line x1="214" y1="694.6" x2="214" y2="697" stroke="#444" stroke-width="0.7"/>
<text class="tk" transform="translate(216.7,701.1) rotate(-90)" text-anchor="end">CCCI</text>
<line x1="239.55" y1="694.6" x2="239.55" y2="697" stroke="#444" stroke-width="0.7"/>
<text class="tk" transform="translate(242.25,701.1) rotate(-90)" text-anchor="end">GRRI</text>
<line x1="265.1" y1="694.6" x2="265.1" y2="697" stroke="#444" stroke-width="0.7"/>
<text class="tk" transform="translate(267.8,701.1) rotate(-90)" text-anchor="end">CARI</text>
<line x1="290.65" y1="694.6" x2="290.65" y2="697" stroke="#444" stroke-width="0.7"/>
<text class="tk" transform="translate(293.35,701.1) rotate(-90)" text-anchor="end">NAVI</text>
<line x1="316.2" y1="694.6" x2="316.2" y2="697" stroke="#444" stroke-width="0.7"/>
<text class="tk" transform="translate(318.9,701.1) rotate(-90)" text-anchor="end">SCCCI</text>
<line x1="341.75" y1="694.6" x2="341.75" y2="697" stroke="#444" stroke-width="0.7"/>
<text class="tk" transform="translate(344.45,701.1) rotate(-90)" text-anchor="end">CIRE</text>
<line x1="367.3" y1="694.6" x2="367.3" y2="697" stroke="#444" stroke-width="0.7"/>
<text class="tk" transform="translate(370,701.1) rotate(-90)" text-anchor="end">CVI</text>
<line x1="392.85" y1="694.6" x2="392.85" y2="697" stroke="#444" stroke-width="0.7"/>
<text class="tk" transform="translate(395.55,701.1) rotate(-90)" text-anchor="end">GCVI</text>
<text class="lb" x="226.47" y="745.5" text-anchor="middle">Vegetation Index</text>
<text class="lb" transform="translate(13.9,606.8) rotate(-90)" text-anchor="middle">RMSE in kg/ha</text>
<text class="cp" x="275.3" y="766.3" text-anchor="middle">(<tspan font-weight="bold">c</tspan>)</text>
<rect x="413.9" y="521.6" width="131.6" height="108.7" rx="1.8" fill="#fff" stroke="#dedede" stroke-width="0.8"/>
<rect x="416.2" y="525.35" width="15.7" height="5.4" fill="#0e70c0"/>
<text class="lg" x="438.7" y="530.95">VE: Vegetative Emergence</text>
<rect x="416.2" y="539.97" width="15.7" height="5.4" fill="#ff7f0e"/>
<text class="lg" x="438.7" y="545.57">V1: 1<tspan dy="-3.4" font-size="5.4">st</tspan><tspan dy="3.4" dx="0.6"> node develops</tspan></text>
<rect x="416.2" y="556.49" width="15.7" height="5.4" fill="#10a01c"/>
<text class="lg" x="438.7" y="561.39">V7: 8<tspan dy="-3.4" font-size="5.4">th</tspan><tspan dy="3.4" dx="0.6"> node develops</tspan></text>
<rect x="416.2" y="570.21" width="15.7" height="5.4" fill="#fc1c1c"/>
<text class="lg" x="438.7" y="575.81">R3: Initial Pod develops</text>
<rect x="416.2" y="582.71" width="15.7" height="5.4" fill="#a066c8"/>
<text class="lg" x="438.7" y="588.31">R4: Full Pod develops</text>
<rect x="416.2" y="595.41" width="15.7" height="5.4" fill="#8e5448"/>
<text class="lg" x="438.7" y="601.01">R5: Initial seed develops</text>
<rect x="416.2" y="607.4" width="15.7" height="5.4" fill="#fb74c6"/>
<text class="lg" x="438.7" y="613">R6: Full seed develops</text>
<rect x="416.2" y="620.1" width="15.7" height="5.4" fill="#808080"/>
<text class="lg" x="438.7" y="625.7">R7: Initial Maturity</text>
</svg>
</body></html>
